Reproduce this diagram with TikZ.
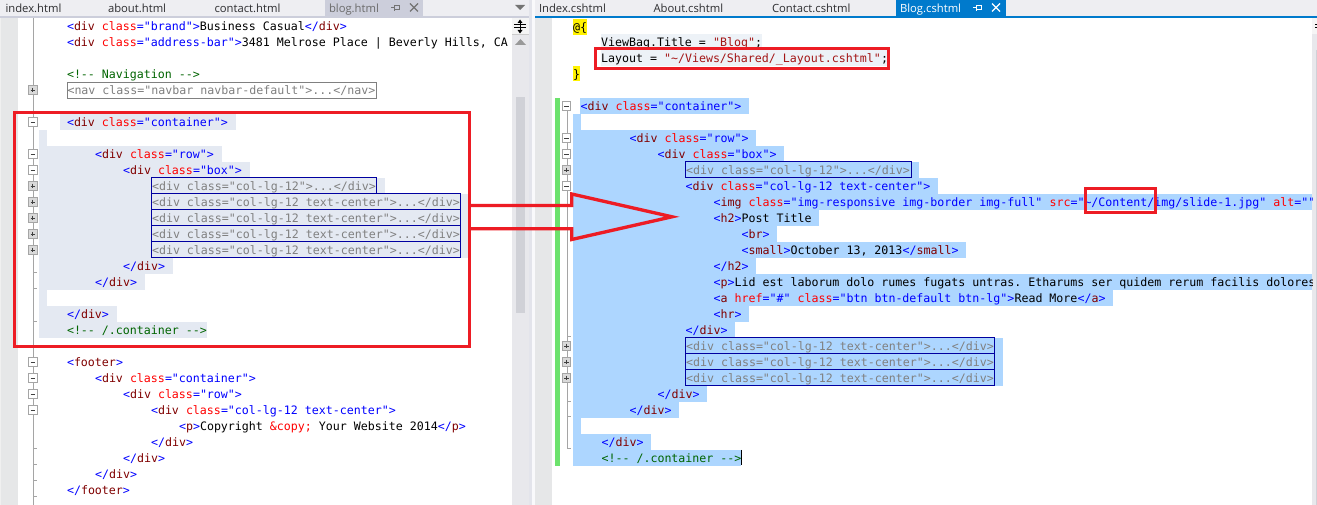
\documentclass[tikz,border=0pt]{standalone}
\usepackage{fontspec}
\newfontfamily\codefam{DejaVu Sans Mono}[Ligatures=NoCommon]
\newfontfamily\tabfam{Open Sans}
\definecolor{cblue}{HTML}{0000FF}
\definecolor{cmaroon}{HTML}{800000}
\definecolor{cred}{HTML}{FF0000}
\definecolor{cgreen}{HTML}{006400}
\definecolor{cgray}{HTML}{808080}
\definecolor{cstr}{HTML}{A31515}
\definecolor{selL}{HTML}{E4E9F2}
\definecolor{selR}{HTML}{ADD6FF}
\definecolor{paleR}{HTML}{EDF2F7}
\definecolor{mark}{HTML}{ED1C24}
\definecolor{navy}{HTML}{0000A0}
\definecolor{strip}{HTML}{EEEEF2}
\definecolor{gut}{HTML}{E6E7E8}
\definecolor{sbar}{HTML}{E8E8EC}
\definecolor{thumb}{HTML}{D0D1D7}
\definecolor{tabbar}{HTML}{CCCEDB}
\definecolor{vsblue}{HTML}{007ACC}
\definecolor{outl}{HTML}{A5A5A5}
\definecolor{okgreen}{HTML}{6CE26C}
\definecolor{tabtxt}{HTML}{2D2D30}
\newcommand{\codefont}{\codefam\fontsize{8.72}{10}\selectfont\frenchspacing}
\newcommand{\Tb}[1]{\textcolor{cblue}{#1}}
\newcommand{\Tn}[1]{\textcolor{cmaroon}{#1}}
\newcommand{\Ta}[1]{\textcolor{cred}{#1}}
\newcommand{\Tc}[1]{\textcolor{cgreen}{#1}}
\newcommand{\Ts}[1]{\textcolor{cstr}{#1}}
\newcommand{\dv}[1]{\Tb{<}\Tn{div} \Ta{class}\Tb{="#1">}}
\newcommand{\cdv}{\Tb{</}\Tn{div}\Tb{>}}
\newcommand{\opn}[1]{\Tb{<}\Tn{#1}\Tb{>}}
\newcommand{\cls}[1]{\Tb{</}\Tn{#1}\Tb{>}}
\tikzset{
  x=0.75pt,y=-0.75pt,
  code/.style={anchor=base west,inner sep=0pt,outer sep=0pt,font=\codefont,text=black},
  collapsed/.style={code,text=cgray},
  tabtext/.style={anchor=base west,inner sep=0pt,outer sep=0pt,font=\tabfam\fontsize{8.45}{10}\selectfont,text=tabtxt},
  redbox/.style={draw=mark,line width=2.25pt},
  bluebox/.style={draw=navy,line width=0.75pt},
  outline/.style={draw=outl,line width=0.75pt},
  plusbox/.style={draw=outl,line width=0.75pt,fill=black!15},
  minusbox/.style={draw=outl,line width=0.75pt,fill=white},
  glyphline/.style={draw=black!75,line width=0.6pt},
}
\begin{document}
\begin{tikzpicture}
\useasboundingbox (0,0) rectangle (1317,505);
\fill[white] (0,0) rectangle (1317,505);
% chrome
\fill[strip] (0,0) rectangle (535,16);
\fill[tabbar] (0,16) rectangle (529,18);
\fill[strip] (535,0) rectangle (1317,16);
\fill[vsblue] (535,16) rectangle (1317,18);
\fill[gut] (1,18) rectangle (18,505);
\fill[black!6] (0,18) rectangle (1,505);
\fill[sbar] (512,18) rectangle (529,505);
\fill[white!88!tabbar] (529,0) rectangle (535,505);
\fill[tabbar!55] (529,0) rectangle (532,505);
\fill[gut] (535,18) rectangle (552,505);
\fill[sbar] (1312,18) rectangle (1317,505);
% left tab
\fill[tabbar] (325,0) rectangle (423,16);
\fill[vsblue] (896,0) rectangle (1006,16);
% left scrollbar details
\fill[black!4] (512,18) rectangle (529,34);
\draw[black!20,line width=0.75pt] (512,34.5) -- (529,34.5);
\fill[thumb] (516,97) rectangle (525,313);
\fill[black!40] (515,45) -- (520.5,39) -- (526,45) -- cycle;
\fill[black!55] (515,5) -- (525,5) -- (520,10) -- cycle;
\draw[black,line width=0.75pt] (514,25) -- (526,25) (514,28) -- (526,28);
\fill[black] (520,19.5) -- (517.5,23) -- (522.5,23) -- cycle;
\fill[black] (520,33.5) -- (517.5,30) -- (522.5,30) -- cycle;
\draw[black,line width=0.75pt] (520,22) -- (520,31);
\fill[black!4] (1312,18) rectangle (1317,34);
\fill[thumb] (1316,50) rectangle (1317,505);
\draw[black,line width=0.75pt] (1315,25) -- (1317,25) (1315,28) -- (1317,28);
% left selection
\foreach \yy/\aa/\bb in {122/60/235.5,138/39/47,154/39/222,170/39/250,186/39/384.5,202/39/468,218/39/468,234/39/468,250/39/468,266/39/173,282/39/145,298/39/47,314/39/117,330/39/207}
  \fill[selL] ({\aa},{\yy-8}) rectangle ({\bb},{\yy+8});
% right pale highlight
\fill[paleR] (601,34) rectangle (762,50);
\fill[paleR] (601,50) rectangle (887,66);
\fill[yellow] (573,19) rectangle (587,35);
\fill[yellow] (573,66) rectangle (580,81);
% right selection
\foreach \yy/\aa/\bb in {106/580/749,122/573/581,138/573/756,154/573/784,170/573/919,186/573/938,202/573/1312,218/573/819,234/573/777,250/573/966,266/573/756,282/573/1312,298/573/1113,314/573/749,330/573/735,346/573/1003,362/573/1003,378/573/1003,394/573/707,410/573/679,426/573/581,442/573/651,458/573/741}
  \fill[selR] ({\aa},{\yy-8}) rectangle ({\bb},{\yy+8});
\fill[okgreen] (555,98) rectangle (559.5,466);
% outlining left
\draw[outline] (33.5,18) -- (33.5,505);
\foreach \yy in {273,289,322,449,465,481,497}
  \draw[outline] (33.5,\yy) -- (37,\yy);
\foreach \yy in {90,186,202,218,234,250}{
  \draw[plusbox] (28.5,{\yy-4.3}) rectangle (37,{\yy+4.3});
  \draw[glyphline] (30.5,\yy) -- (35,\yy) (32.75,{\yy-2.3}) -- (32.75,{\yy+2.3});
}
\foreach \yy in {122,154,170,362,378,394,410}{
  \draw[minusbox] (28.5,{\yy-4.3}) rectangle (37,{\yy+4.3});
  \draw[glyphline] (30.5,\yy) -- (35,\yy);
}
% outlining right
\draw[outline] (567.7,106) -- (567.7,449) -- (571,449);
\foreach \yy in {337,401.5,417}
  \draw[outline] (567.7,\yy) -- (571,\yy);
\foreach \yy in {170,346,362,378}{
  \draw[plusbox] (562.3,{\yy-4.3}) rectangle (570.8,{\yy+4.3});
  \draw[glyphline] (564.3,\yy) -- (568.8,\yy) (566.55,{\yy-2.3}) -- (566.55,{\yy+2.3});
}
\foreach \yy in {106,138,154,186}{
  \draw[minusbox] (562.3,{\yy-4.3}) rectangle (570.8,{\yy+4.3});
  \draw[glyphline] (564.3,\yy) -- (568.8,\yy);
}
% tabs
\node[tabtext] (tabIndexHtml) at (5.5,12.5) {index.html};
\node[tabtext] (tabAboutHtml) at (108,12.5) {about.html};
\node[tabtext] (tabContactHtml) at (214.5,12.5) {contact.html};
\node[tabtext,text=black!58] (tabBlogHtml) at (329,12.5) {blog.html};
\node[tabtext] (tabIndexCs) at (539,12.5) {Index.cshtml};
\node[tabtext] (tabAboutCs) at (653.5,12.5) {About.cshtml};
\node[tabtext] (tabContactCs) at (772,12.5) {Contact.cshtml};
\node[tabtext,text=white] (tabBlogCs) at (900,12.5) {Blog.cshtml};
% pin and close icons
\draw[black!55,line width=0.75pt] (391,8) -- (394,8) (394,5) -- (394,11) (394,5.5) rectangle (399,9.5);
\draw[black!55,line width=1pt] (410,3.5) -- (418,11.5) (418,3.5) -- (410,11.5);
\draw[white,line width=0.75pt] (973,8) -- (976,8) (976,5) -- (976,11) (976,5.5) rectangle (981,9.5);
\draw[white,line width=1pt] (992,3.5) -- (1000,11.5) (1000,3.5) -- (992,11.5);
% left code
\begin{scope}[shift={(0,1)}]
\clip (18,18) rectangle (512,505);
\node[code] (a1) at (67,30) {\dv{brand}Business Casual\cdv};
\node[code] (a2) at (67,46) {\Tb{<}\Tn{div} \Ta{class}\Tb{="address-bar">}3481 Melrose Place | Beverly Hills, CA};
\node[code,text=cgreen] (a3) at (67,78) {<!-- Navigation -->};
\node[collapsed] (a4) at (67.5,94) {<nav class="navbar navbar-default">...</nav>};
\node[code] (a5) at (67,126) {\dv{container}};
\node[code] (a6) at (95,158) {\dv{row}};
\node[code] (a7) at (123,174) {\dv{box}};
\node[collapsed] (a8) at (152,190) {<div class="col-lg-12">...</div>};
\node[collapsed] (a9) at (152,206) {<div class="col-lg-12 text-center">...</div>};
\node[collapsed] (a10) at (152,222) {<div class="col-lg-12 text-center">...</div>};
\node[collapsed] (a11) at (152,238) {<div class="col-lg-12 text-center">...</div>};
\node[collapsed] (a12) at (152,254) {<div class="col-lg-12 text-center">...</div>};
\node[code] (a13) at (123,270) {\cdv};
\node[code] (a14) at (95,286) {\cdv};
\node[code] (a15) at (67,318) {\cdv};
\node[code,text=cgreen] (a16) at (67,334) {<!-- /.container -->};
\node[code] (a17) at (67,366) {\opn{footer}};
\node[code] (a18) at (95,382) {\dv{container}};
\node[code] (a19) at (123,398) {\dv{row}};
\node[code] (a20) at (151,414) {\dv{col-lg-12 text-center}};
\node[code] (a21) at (179,430) {\opn{p}Copyright \Ta{\&copy;} Your Website 2014\cls{p}};
\node[code] (a22) at (151,446) {\cdv};
\node[code] (a23) at (123,462) {\cdv};
\node[code] (a24) at (95,478) {\cdv};
\node[code] (a25) at (67,494) {\cls{footer}};
\end{scope}
\draw[draw=cgray,line width=0.75pt] (67,82.5) rectangle (376,98.5);
\foreach \yy/\bb in {178/376,194/460.5,210/460.5,226/460.5,242/460.5}
  \draw[bluebox] (151.7,\yy) rectangle (\bb,{\yy+16});
% right code
\begin{scope}[shift={(0,1)}]
\clip (552,18) rectangle (1312,505);
\node[code] (b1) at (573,31) {@\{};
\node[code] (b2) at (601,46) {ViewBag.Title = \Ts{"Blog"};};
\node[code] (b3) at (601,62) {Layout = \Ts{"\string~/Views/Shared/\_Layout.cshtml"};};
\node[code] (b4) at (573,78) {\}};
\node[code] (b5) at (580.5,110) {\dv{container}};
\node[code] (b6) at (629.5,142) {\dv{row}};
\node[code] (b7) at (657.5,158) {\dv{box}};
\node[collapsed] (b8) at (686,174) {<div class="col-lg-12">...</div>};
\node[code] (b9) at (685.5,190) {\dv{col-lg-12 text-center}};
\node[code] (b10) at (713.5,206) {\Tb{<}\Tn{img} \Ta{class}\Tb{="img-responsive img-border img-full"} \Ta{src}\Tb{="\string~/Content/img/slide-1.jpg"} \Ta{alt}\Tb{=""}};
\node[code] (b11) at (713.5,222) {\opn{h2}Post Title};
\node[code] (b12) at (741.5,238) {\opn{br}};
\node[code] (b13) at (741.5,254) {\opn{small}October 13, 2013\cls{small}};
\node[code] (b14) at (713.5,270) {\cls{h2}};
\node[code] (b15) at (713.5,286) {\opn{p}Lid est laborum dolo rumes fugats untras. Etharums ser quidem rerum facilis dolores};
\node[code] (b16) at (713.5,302) {\Tb{<}\Tn{a} \Ta{href}\Tb{="\#"} \Ta{class}\Tb{="btn btn-default btn-lg">}Read More\cls{a}};
\node[code] (b17) at (713.5,318) {\opn{hr}};
\node[code] (b18) at (685.5,334) {\cdv};
\node[collapsed] (b19) at (686,350) {<div class="col-lg-12 text-center">...</div>};
\node[collapsed] (b20) at (686,366) {<div class="col-lg-12 text-center">...</div>};
\node[collapsed] (b21) at (686,382) {<div class="col-lg-12 text-center">...</div>};
\node[code] (b22) at (657.5,398) {\cdv};
\node[code] (b23) at (629.5,414) {\cdv};
\node[code] (b24) at (601.5,446) {\cdv};
\node[code,text=cgreen] (b25) at (601.5,462) {<!-- /.container -->};
\end{scope}
\draw[black,line width=0.75pt] (741.5,450) -- (741.5,465);
\foreach \yy/\bb in {162/911,338/994,354/994,370/994}
  \draw[bluebox] (685.7,\yy) rectangle (\bb,{\yy+16});
% red annotations
\draw[redbox] (14.5,112.3) rectangle (469.5,346.5);
\draw[redbox] (595.5,48.5) rectangle (888.5,68.5);
\draw[redbox] (1085.5,188.5) rectangle (1155.5,212.5);
\coordinate (arrowTop) at (470,205.5);
\coordinate (arrowBottom) at (470,228.7);
\draw[redbox,line width=2.5pt,line join=miter] (arrowTop) -- (571.7,205.5) -- (571.7,194) -- (672,216.8) -- (571.7,239.5) -- (571.7,228.7) -- (arrowBottom);
\end{tikzpicture}
\end{document}
